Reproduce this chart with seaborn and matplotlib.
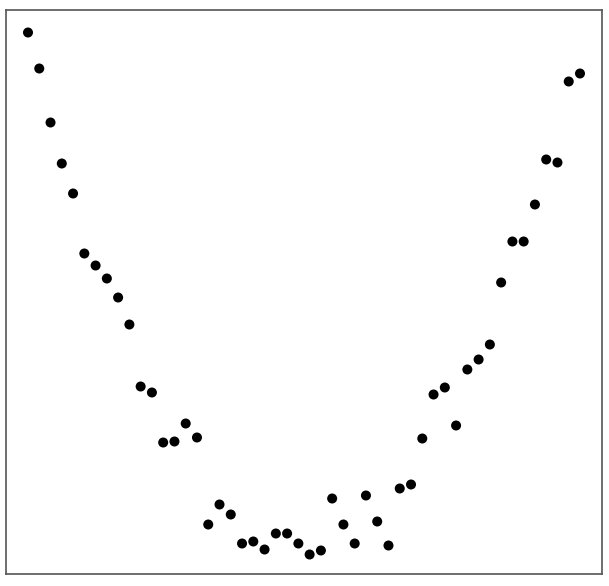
import numpy as np
import pandas as pd
import matplotlib
matplotlib.use("Agg")
import matplotlib.pyplot as plt
import seaborn as sns

# values
x = np.arange(1, 51)
y = [54.3, 50.7, 45.3, 41.2, 38.2, 32.2, 31.0, 29.7, 27.8, 25.1,
     18.9, 18.3, 13.3, 13.4, 15.2, 13.8, 5.1, 7.1, 6.1, 3.2,
     3.4, 2.6, 4.2, 4.2, 3.2, 2.1, 2.5, 7.7, 5.1, 3.2,
     8.0, 5.4, 3.0, 8.7, 9.1, 13.7, 18.1, 18.8, 15.0, 20.6,
     21.6, 23.1, 29.3, 33.4, 33.4, 37.1, 41.6, 41.3, 49.4, 50.2]

df = pd.DataFrame({"x": x, "y": y})

sns.set_style("white")
fig = plt.figure(figsize=(6.09, 5.86), dpi=100)
ax = fig.add_axes([6 / 609, 12 / 586, 596 / 609, 564 / 586])

sns.scatterplot(data=df, x="x", y="y", ax=ax, color="black", s=52,
                edgecolor="none", legend=False)

ax.set_xlim(-0.953, 51.953)
ax.set_ylim(0.15, 56.55)
ax.set_xticks([])
ax.set_yticks([])
ax.set_xlabel("")
ax.set_ylabel("")
for sp in ax.spines.values():
    sp.set_visible(True)
    sp.set_color("#555555")
    sp.set_linewidth(1.2)

fig.savefig("out.png", dpi=100)
